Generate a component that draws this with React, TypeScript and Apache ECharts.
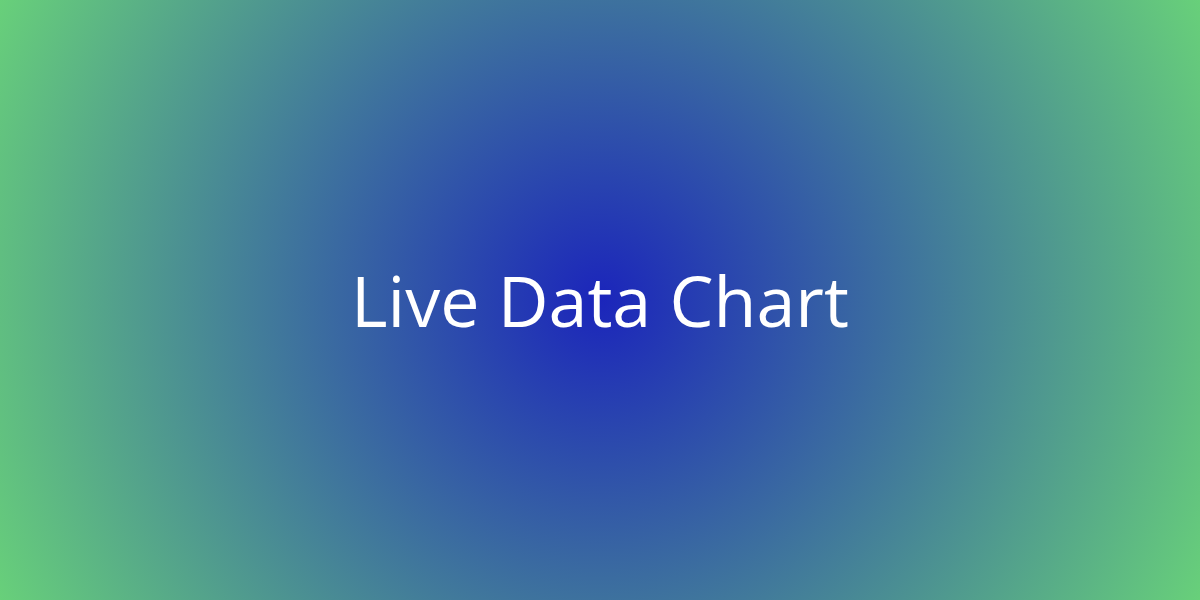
import React, { useEffect, useRef } from "react";
import * as echarts from "echarts";

const titleText = "Live Data Chart";
const gradientStops = [
  { offset: 0, color: "#1b25bb" },
  { offset: 1, color: "#68d07a" },
];

const App: React.FC = () => {
  const chartRef = useRef<HTMLDivElement>(null);

  useEffect(() => {
    document.body.style.margin = "0";
    if (!chartRef.current) return;
    const chart = echarts.init(chartRef.current, undefined, { renderer: "svg" });
    const w = chart.getWidth();
    const h = chart.getHeight();

    chart.setOption({
      animation: false,
      // circular gradient reaching the corners (like css "circle farthest-corner")
      backgroundColor: {
        type: "radial",
        x: w / 2,
        y: h / 2,
        r: Math.sqrt((w / 2) ** 2 + (h / 2) ** 2),
        global: true,
        colorStops: gradientStops,
      },
      title: {
        text: titleText,
        left: "center",
        top: "middle",
        textStyle: {
          color: "#ffffff",
          fontFamily: "Open Sans",
          fontWeight: "normal",
          fontSize: 70,
        },
      },
    });

    return () => {
      chart.dispose();
    };
  }, []);

  return <div ref={chartRef} style={{ width: "1200px", height: "600px" }} />;
};

export default App;
